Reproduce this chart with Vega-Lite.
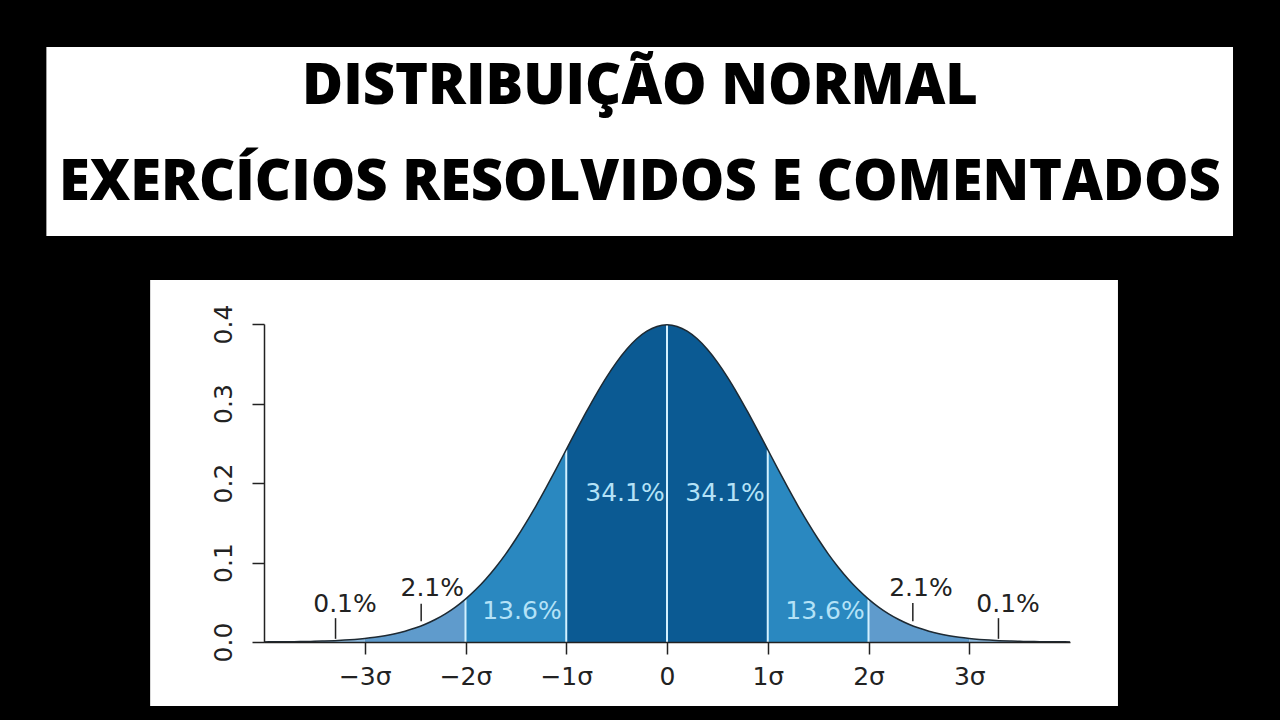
{
  "$schema": "https://vega.github.io/schema/vega-lite/v6.json",
  "autosize": "none",
  "width": 806,
  "height": 318,
  "padding": {"left": 264, "top": 324, "right": 210, "bottom": 78},
  "background": "black",
  "config": {
    "view": {"stroke": null},
    "axis": {
      "grid": false,
      "domainColor": "#222222",
      "domainWidth": 1.5,
      "tickColor": "#222222",
      "tickWidth": 1.5,
      "tickSize": 12,
      "labelFont": "DejaVu Sans",
      "labelFontSize": 25,
      "labelColor": "#222222",
      "labelFlush": false
    }
  },
  "datasets": {
    "titles": [
      {"x": -0.268, "y": 0.6767, "t": "DISTRIBUIÇÃO NORMAL"},
      {"x": -0.268, "y": 0.556, "t": "EXERCÍCIOS RESOLVIDOS E COMENTADOS"}
    ],
    "pdf": [
      {"x": -4.0, "y": 0.00013, "s": "L4"}, {"x": -3.9, "y": 0.0002, "s": "L4"}, {"x": -3.8, "y": 0.00029, "s": "L4"}, {"x": -3.7, "y": 0.00042, "s": "L4"}, {"x": -3.6, "y": 0.00061, "s": "L4"}, {"x": -3.5, "y": 0.00087, "s": "L4"}, {"x": -3.4, "y": 0.00123, "s": "L4"}, {"x": -3.3, "y": 0.00172, "s": "L4"}, {"x": -3.2, "y": 0.00238, "s": "L4"}, {"x": -3.1, "y": 0.00327, "s": "L4"}, {"x": -3.0, "y": 0.00443, "s": "L4"},
      {"x": -3.0, "y": 0.00443, "s": "L3"}, {"x": -2.9, "y": 0.00595, "s": "L3"}, {"x": -2.8, "y": 0.00792, "s": "L3"}, {"x": -2.7, "y": 0.01042, "s": "L3"}, {"x": -2.6, "y": 0.01358, "s": "L3"}, {"x": -2.5, "y": 0.01753, "s": "L3"}, {"x": -2.4, "y": 0.02239, "s": "L3"}, {"x": -2.3, "y": 0.02833, "s": "L3"}, {"x": -2.2, "y": 0.03547, "s": "L3"}, {"x": -2.1, "y": 0.04398, "s": "L3"}, {"x": -2.0, "y": 0.05399, "s": "L3"},
      {"x": -2.0, "y": 0.05399, "s": "L2"}, {"x": -1.9, "y": 0.06562, "s": "L2"}, {"x": -1.8, "y": 0.07895, "s": "L2"}, {"x": -1.7, "y": 0.09405, "s": "L2"}, {"x": -1.6, "y": 0.11092, "s": "L2"}, {"x": -1.5, "y": 0.12952, "s": "L2"}, {"x": -1.4, "y": 0.14973, "s": "L2"}, {"x": -1.3, "y": 0.17137, "s": "L2"}, {"x": -1.2, "y": 0.19419, "s": "L2"}, {"x": -1.1, "y": 0.21785, "s": "L2"}, {"x": -1.0, "y": 0.24197, "s": "L2"},
      {"x": -1.0, "y": 0.24197, "s": "C"}, {"x": -0.9, "y": 0.26609, "s": "C"}, {"x": -0.8, "y": 0.28969, "s": "C"}, {"x": -0.7, "y": 0.31225, "s": "C"}, {"x": -0.6, "y": 0.33322, "s": "C"}, {"x": -0.5, "y": 0.35207, "s": "C"}, {"x": -0.4, "y": 0.36827, "s": "C"}, {"x": -0.3, "y": 0.38139, "s": "C"}, {"x": -0.2, "y": 0.39104, "s": "C"}, {"x": -0.1, "y": 0.39695, "s": "C"}, {"x": 0.0, "y": 0.39894, "s": "C"}, {"x": 0.1, "y": 0.39695, "s": "C"}, {"x": 0.2, "y": 0.39104, "s": "C"}, {"x": 0.3, "y": 0.38139, "s": "C"}, {"x": 0.4, "y": 0.36827, "s": "C"}, {"x": 0.5, "y": 0.35207, "s": "C"}, {"x": 0.6, "y": 0.33322, "s": "C"}, {"x": 0.7, "y": 0.31225, "s": "C"}, {"x": 0.8, "y": 0.28969, "s": "C"}, {"x": 0.9, "y": 0.26609, "s": "C"}, {"x": 1.0, "y": 0.24197, "s": "C"},
      {"x": 1.0, "y": 0.24197, "s": "R2"}, {"x": 1.1, "y": 0.21785, "s": "R2"}, {"x": 1.2, "y": 0.19419, "s": "R2"}, {"x": 1.3, "y": 0.17137, "s": "R2"}, {"x": 1.4, "y": 0.14973, "s": "R2"}, {"x": 1.5, "y": 0.12952, "s": "R2"}, {"x": 1.6, "y": 0.11092, "s": "R2"}, {"x": 1.7, "y": 0.09405, "s": "R2"}, {"x": 1.8, "y": 0.07895, "s": "R2"}, {"x": 1.9, "y": 0.06562, "s": "R2"}, {"x": 2.0, "y": 0.05399, "s": "R2"},
      {"x": 2.0, "y": 0.05399, "s": "R3"}, {"x": 2.1, "y": 0.04398, "s": "R3"}, {"x": 2.2, "y": 0.03547, "s": "R3"}, {"x": 2.3, "y": 0.02833, "s": "R3"}, {"x": 2.4, "y": 0.02239, "s": "R3"}, {"x": 2.5, "y": 0.01753, "s": "R3"}, {"x": 2.6, "y": 0.01358, "s": "R3"}, {"x": 2.7, "y": 0.01042, "s": "R3"}, {"x": 2.8, "y": 0.00792, "s": "R3"}, {"x": 2.9, "y": 0.00595, "s": "R3"}, {"x": 3.0, "y": 0.00443, "s": "R3"},
      {"x": 3.0, "y": 0.00443, "s": "R4"}, {"x": 3.1, "y": 0.00327, "s": "R4"}, {"x": 3.2, "y": 0.00238, "s": "R4"}, {"x": 3.3, "y": 0.00172, "s": "R4"}, {"x": 3.4, "y": 0.00123, "s": "R4"}, {"x": 3.5, "y": 0.00087, "s": "R4"}, {"x": 3.6, "y": 0.00061, "s": "R4"}, {"x": 3.7, "y": 0.00042, "s": "R4"}, {"x": 3.8, "y": 0.00029, "s": "R4"}, {"x": 3.9, "y": 0.0002, "s": "R4"}, {"x": 4.0, "y": 0.00013, "s": "R4"}
    ],
    "panels": [
      {"x": -6.16, "x2": 5.618, "y": 0.7484, "y2": 0.5107},
      {"x": -5.13, "x2": 4.476, "y": 0.4553, "y2": -0.0805}
    ],
    "dividers": [
      {"x": -2, "y": 0.05399, "y0": 0}, {"x": -1, "y": 0.24197, "y0": 0}, {"x": 0, "y": 0.39894, "y0": 0}, {"x": 1, "y": 0.24197, "y0": 0}, {"x": 2, "y": 0.05399, "y0": 0}
    ],
    "pointers": [
      {"x": -2.44, "y": 0.048, "y2": 0.026}, {"x": 2.44, "y": 0.049, "y2": 0.026},
      {"x": -3.29, "y": 0.030, "y2": 0.004}, {"x": 3.29, "y": 0.030, "y2": 0.004}
    ],
    "lightLabels": [
      {"x": -0.417, "y": 0.187, "t": "34.1%"}, {"x": 0.576, "y": 0.187, "t": "34.1%"},
      {"x": -1.44, "y": 0.039, "t": "13.6%"}, {"x": 1.568, "y": 0.039, "t": "13.6%"}
    ],
    "darkLabels": [
      {"x": -2.33, "y": 0.068, "t": "2.1%"}, {"x": 2.52, "y": 0.068, "t": "2.1%"},
      {"x": -3.196, "y": 0.048, "t": "0.1%"}, {"x": 3.385, "y": 0.048, "t": "0.1%"}
    ]
  },
  "layer": [
    {
      "data": {"name": "panels"},
      "mark": {"type": "rect", "color": "white"},
      "encoding": {
        "x": {
          "field": "x", "type": "quantitative", "title": null,
          "scale": {"domain": [-4, 4], "nice": false, "zero": false},
          "axis": {
            "values": [-3, -2, -1, 0, 1, 2, 3],
            "labelExpr": "datum.value == 0 ? '0' : (datum.value < 0 ? '−' : '') + abs(datum.value) + 'σ'",
            "labelPadding": 10,
            "zindex": 1
          }
        },
        "x2": {"field": "x2"},
        "y": {
          "field": "y", "type": "quantitative", "title": null,
          "scale": {"domain": [0, 0.4], "nice": false, "zero": false},
          "axis": {
            "values": [0, 0.1, 0.2, 0.3, 0.4],
            "format": ".1f",
            "labelAngle": -90,
            "labelAlign": "center",
            "labelBaseline": "bottom",
            "labelPadding": 16,
            "zindex": 1
          }
        },
        "y2": {"field": "y2"}
      }
    },
    {
      "data": {"name": "titles"},
      "mark": {"type": "text", "font": "Open Sans", "fontSize": 56, "fontWeight": 800, "color": "black", "baseline": "alphabetic", "align": "center"},
      "encoding": {
        "x": {"field": "x", "type": "quantitative", "title": null, "scale": {"domain": [-4, 4], "nice": false, "zero": false}},
        "y": {"field": "y", "type": "quantitative", "title": null, "scale": {"domain": [0, 0.4], "nice": false, "zero": false}},
        "text": {"field": "t", "type": "nominal"}
      }
    },
    {
      "data": {"name": "pdf"},
      "mark": {"type": "area", "interpolate": "monotone"},
      "encoding": {
        "x": {"field": "x", "type": "quantitative", "title": null, "scale": {"domain": [-4, 4], "nice": false, "zero": false}},
        "y": {"field": "y", "type": "quantitative", "title": null, "stack": null, "scale": {"domain": [0, 0.4], "nice": false, "zero": false}},
        "color": {
          "field": "s",
          "type": "nominal",
          "legend": null,
          "scale": {
            "domain": ["L4", "L3", "L2", "C", "R2", "R3", "R4"],
            "range": ["#8dbbe0", "#5f9bcc", "#2a88c0", "#0b5a93", "#2a88c0", "#5f9bcc", "#8dbbe0"]
          }
        }
      }
    },
    {
      "data": {"name": "dividers"},
      "mark": {"type": "rule", "color": "#d2f0ff", "strokeWidth": 2},
      "encoding": {
        "x": {"field": "x", "type": "quantitative", "title": null, "scale": {"domain": [-4, 4], "nice": false, "zero": false}},
        "y": {"field": "y0", "type": "quantitative", "title": null, "scale": {"domain": [0, 0.4], "nice": false, "zero": false}},
        "y2": {"field": "y"}
      }
    },
    {
      "data": {"name": "pdf"},
      "mark": {"type": "line", "interpolate": "monotone", "color": "#1e2a33", "strokeWidth": 1.5},
      "encoding": {
        "x": {"field": "x", "type": "quantitative", "title": null, "scale": {"domain": [-4, 4], "nice": false, "zero": false}},
        "y": {"field": "y", "type": "quantitative", "title": null, "scale": {"domain": [0, 0.4], "nice": false, "zero": false}}
      }
    },
    {
      "data": {"name": "pointers"},
      "mark": {"type": "rule", "color": "#222222", "strokeWidth": 1.5},
      "encoding": {
        "x": {"field": "x", "type": "quantitative", "title": null, "scale": {"domain": [-4, 4], "nice": false, "zero": false}},
        "y": {"field": "y", "type": "quantitative", "title": null, "scale": {"domain": [0, 0.4], "nice": false, "zero": false}},
        "y2": {"field": "y2"}
      }
    },
    {
      "data": {"name": "lightLabels"},
      "mark": {"type": "text", "font": "DejaVu Sans", "fontSize": 25, "color": "#b4e2f7", "baseline": "middle", "align": "center"},
      "encoding": {
        "x": {"field": "x", "type": "quantitative", "title": null, "scale": {"domain": [-4, 4], "nice": false, "zero": false}},
        "y": {"field": "y", "type": "quantitative", "title": null, "scale": {"domain": [0, 0.4], "nice": false, "zero": false}},
        "text": {"field": "t", "type": "nominal"}
      }
    },
    {
      "data": {"name": "darkLabels"},
      "mark": {"type": "text", "font": "DejaVu Sans", "fontSize": 25, "color": "#222222", "baseline": "middle", "align": "center"},
      "encoding": {
        "x": {"field": "x", "type": "quantitative", "title": null, "scale": {"domain": [-4, 4], "nice": false, "zero": false}},
        "y": {"field": "y", "type": "quantitative", "title": null, "scale": {"domain": [0, 0.4], "nice": false, "zero": false}},
        "text": {"field": "t", "type": "nominal"}
      }
    }
  ]
}
